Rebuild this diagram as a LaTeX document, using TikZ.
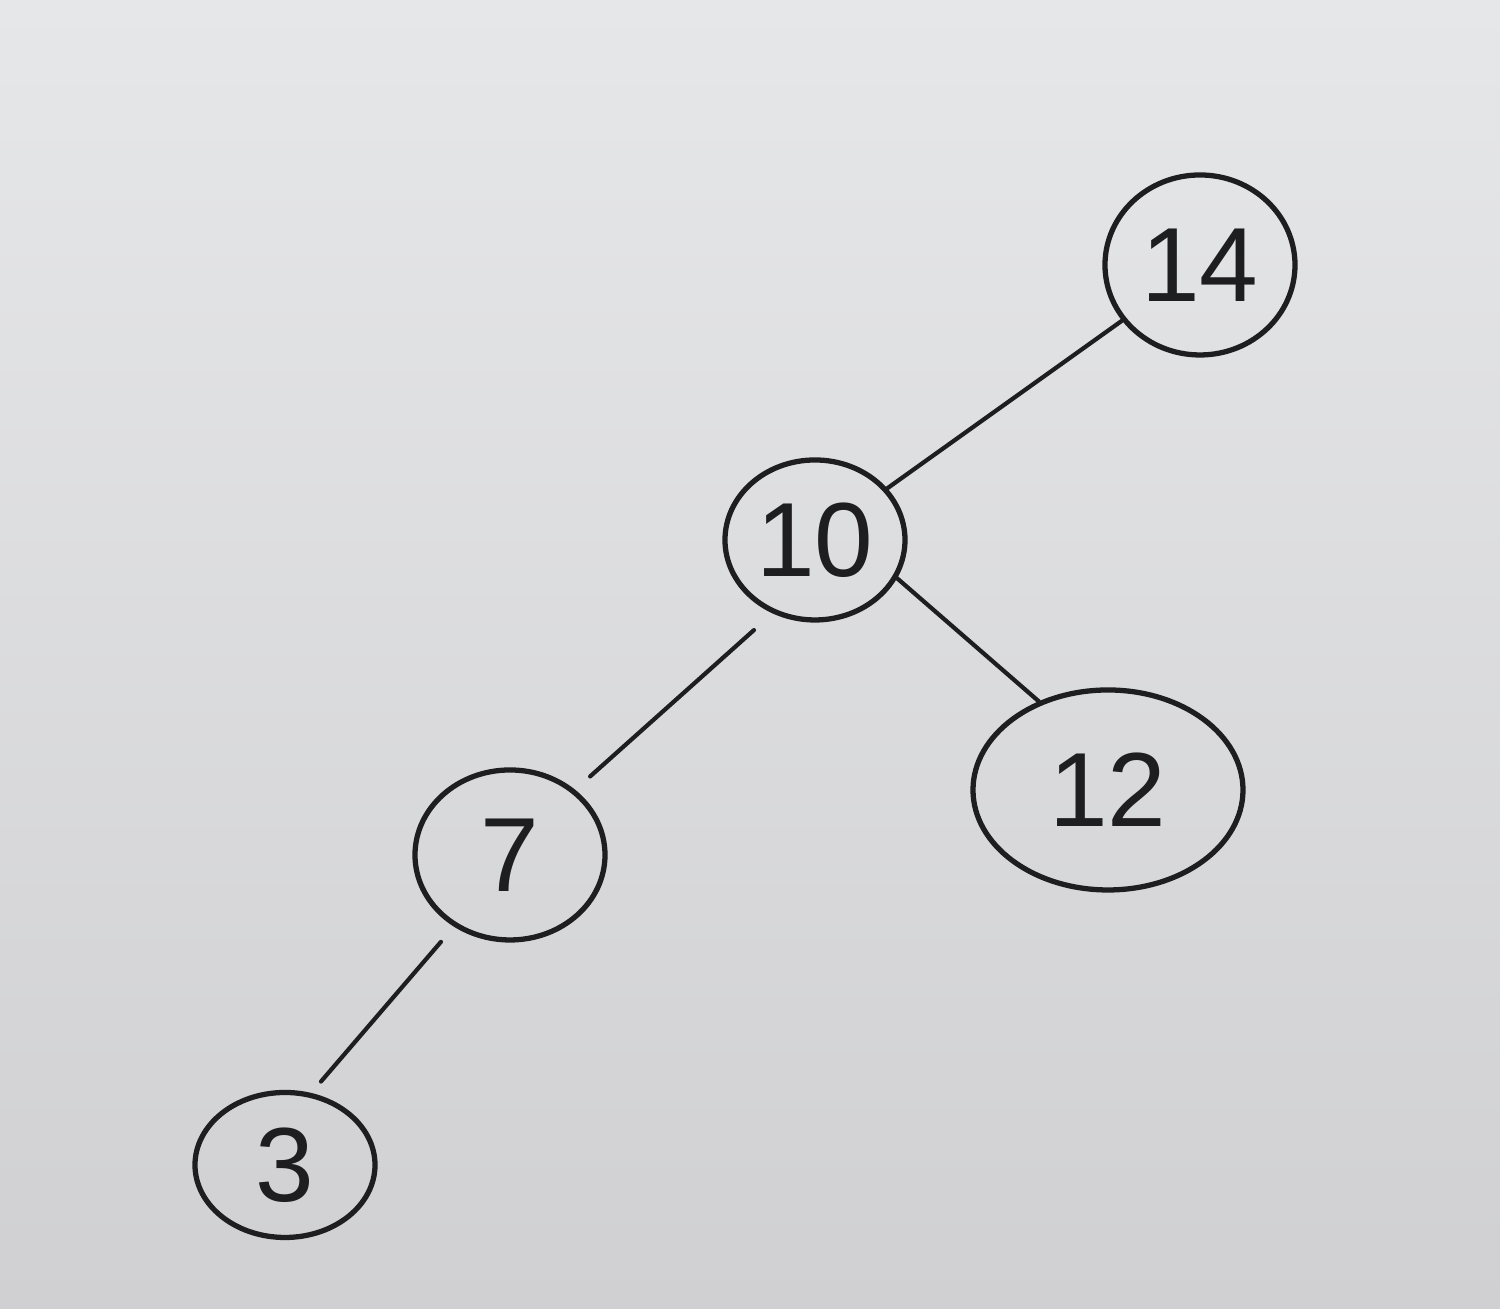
\documentclass[tikz,border=0pt]{standalone}
\usepackage{fontspec}
\setmainfont{Liberation Sans}
\usepackage{tikz}
\usetikzlibrary{shapes.geometric}
\usetikzlibrary{positioning}
\usetikzlibrary{calc}
\definecolor{paper}{RGB}{230,231,233}
\definecolor{paperdark}{RGB}{208,208,210}
\definecolor{pen}{RGB}{30,30,32}

\begin{document}
\begin{tikzpicture}[key/.style={ellipse,draw=pen,line width=1.5pt,inner sep=0pt,text=pen,font=\fontsize{30}{30}\selectfont},
  link/.style={draw=pen,line width=1.2pt,line cap=round}]
\useasboundingbox (0,0) rectangle (15,13.09);
\shade[top color=paper,bottom color=paperdark] (0,0) rectangle (15,13.09);
\node [key,minimum width=1.9cm,minimum height=1.8cm] (k14) at (12.00,10.44) {14};
\node [key,minimum width=1.8cm,minimum height=1.6cm] (k10) at (8.15,7.69) {10};
\node [key,minimum width=2.7cm,minimum height=2.0cm] (k12) at (11.08,5.19) {12};
\node [key,minimum width=1.9cm,minimum height=1.7cm] (k7) at (5.10,4.54) {7};
\node [key,minimum width=1.8cm,minimum height=1.45cm] (k3) at (2.85,1.44) {3};
\draw [link] (k14) -- (k10);
\draw [link] (k10.-25) -- (k12.128);
\draw [link,shorten <=0.25cm,shorten >=0.2cm] (k10.240) -- (k7.45);
\draw [link,shorten <=0.2cm,shorten >=0.15cm] (k7.232) -- (k3.70);
\end{tikzpicture}
\end{document}
